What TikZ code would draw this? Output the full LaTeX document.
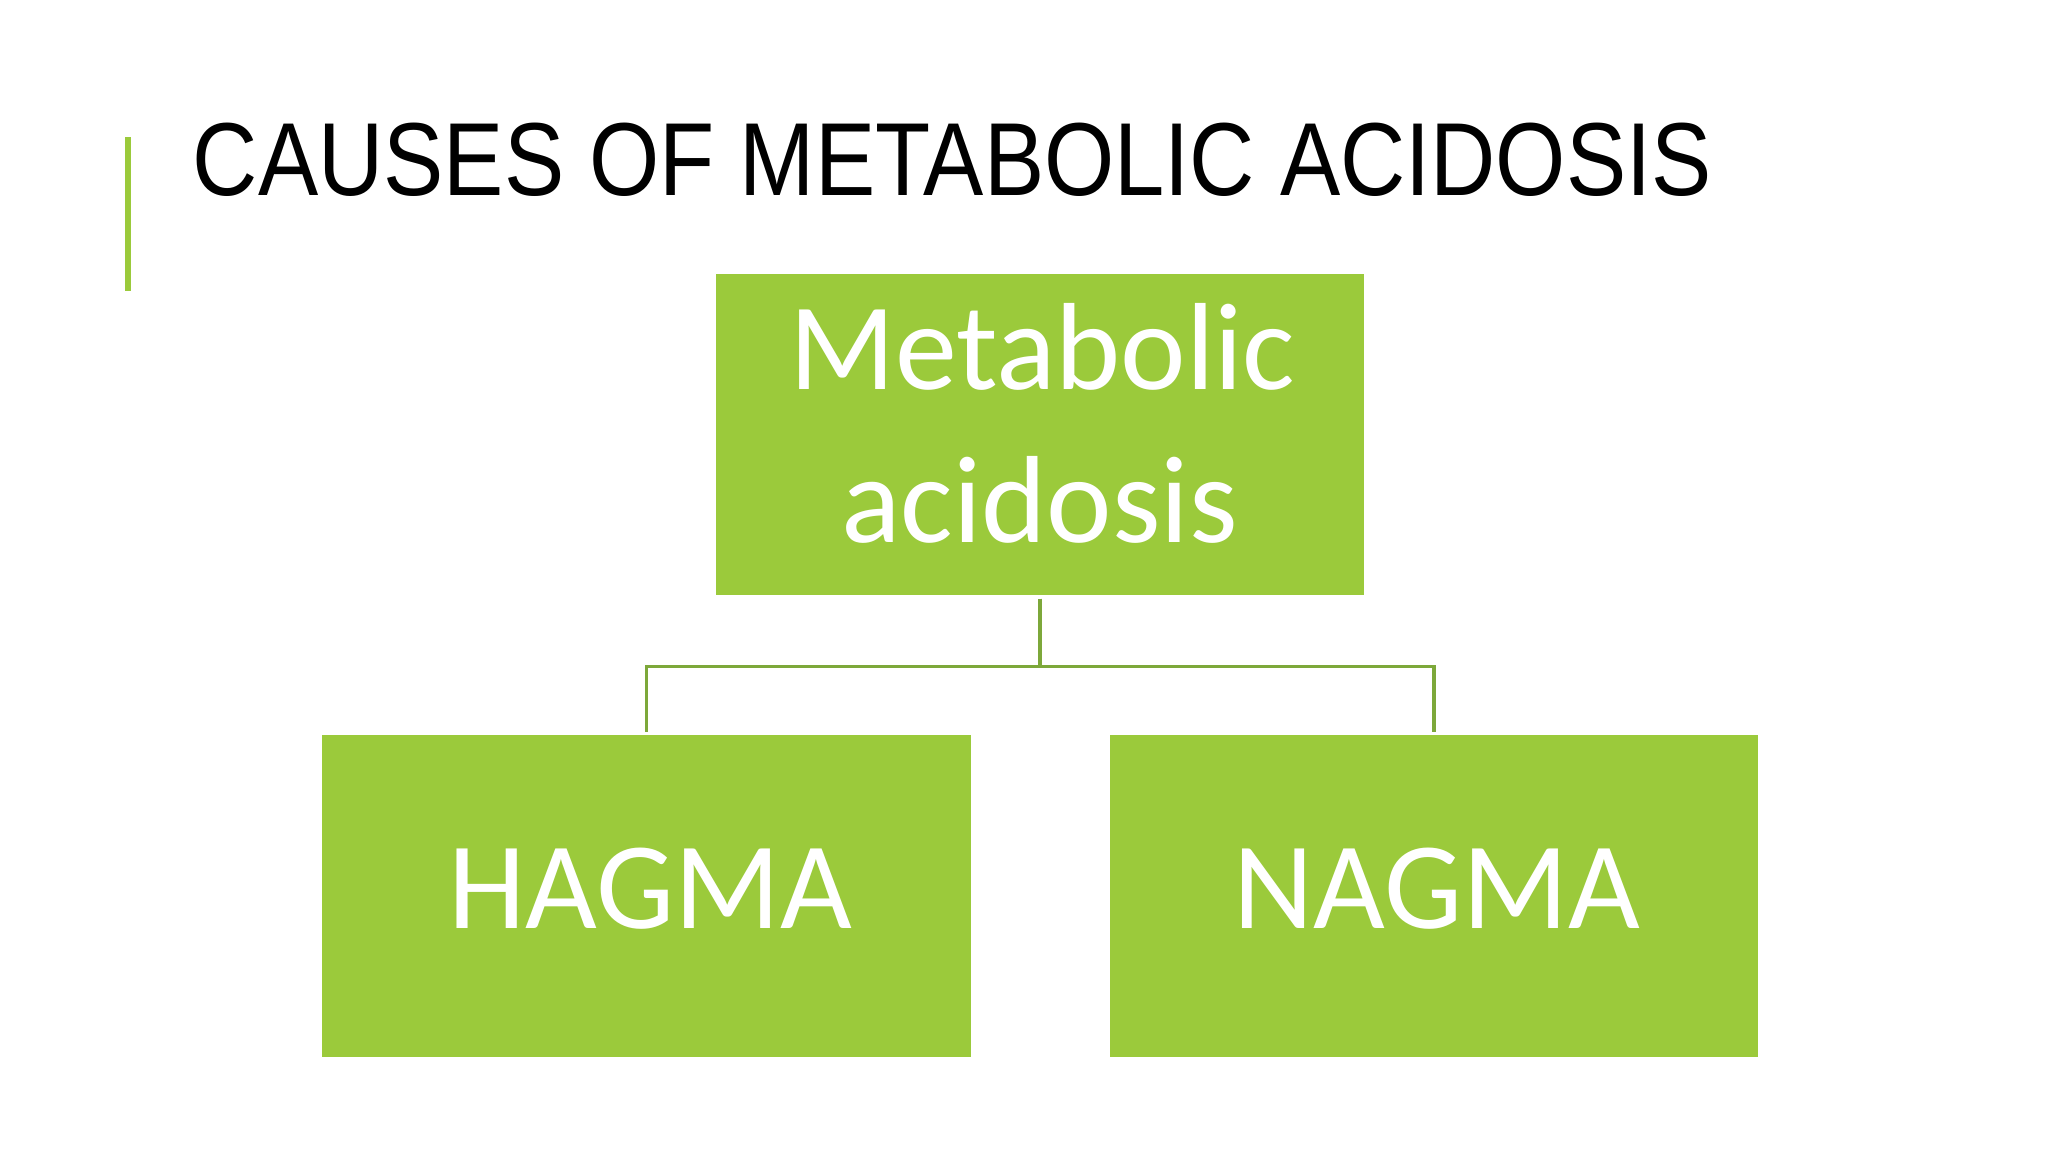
\documentclass[tikz,border=0pt]{standalone}
\usepackage{fontspec}
\setmainfont{Carlito}
\newfontfamily\titlefont[FakeStretch=0.87]{Liberation Sans}
\definecolor{boxgreen}{HTML}{9BCA3B}
\definecolor{linegreen}{HTML}{7DA83A}
\begin{document}
\begin{tikzpicture}[x=0.01cm,y=-0.01cm,
  gbox/.style={fill=boxgreen,draw=none,minimum width=4.96cm,minimum height=2.46cm,inner sep=0pt},
  btext/.style={text=white,align=center,inner sep=0pt,font=\fontsize{27}{33}\selectfont}]
\useasboundingbox (0,0) rectangle (1568,882);
\fill[white] (0,0) rectangle (1568,882);
\draw[boxgreen,line width=1.2pt] (98,105) -- (98,223);
\node[anchor=base west,inner sep=0pt,font=\titlefont\fontsize{22.6}{26}\selectfont] (title) at (147,150) {CAUSES OF METABOLIC ACIDOSIS};
\node[gbox] (top) at (796.5,332.5) {};
\node[gbox] (hagma) at (495,686) {};
\node[gbox] (nagma) at (1098,686) {};
\node[btext,anchor=base] (t1) at (798,298) {Metabolic};
\node[btext,anchor=base] (t2) at (796,415) {acidosis};
\node[btext,anchor=base] (t3) at (498,711) {HAGMA};
\node[btext,anchor=base] (t4) at (1100,711) {NAGMA};
\draw[linegreen,line width=0.8pt] ([yshift=-0.02cm]top.south) -- ++(0,52) -| ([yshift=0.02cm]hagma.north);
\draw[linegreen,line width=0.8pt] ([yshift=-0.02cm]top.south) -- ++(0,52) -| ([yshift=0.02cm]nagma.north);
\end{tikzpicture}
\end{document}
